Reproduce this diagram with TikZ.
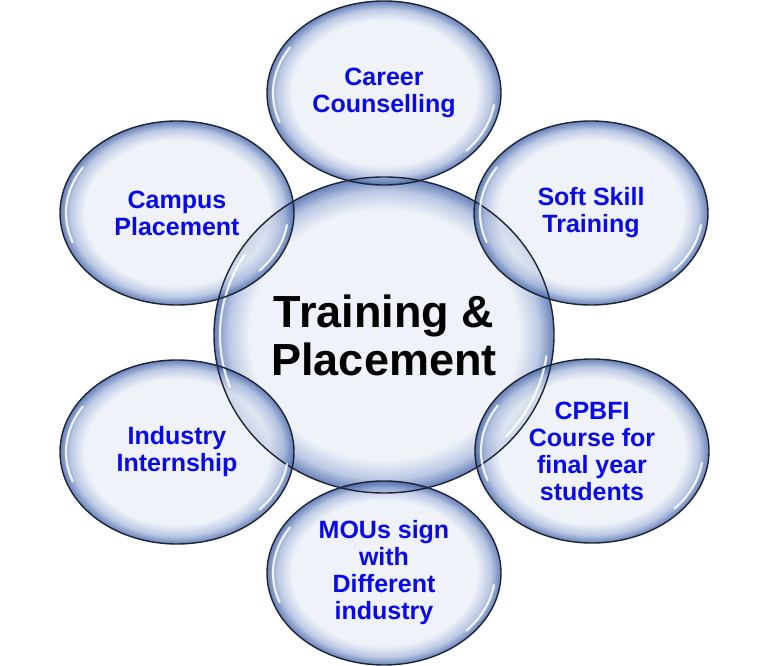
\documentclass[tikz,border=0pt]{standalone}
\usepackage{fontspec}
\setmainfont{Liberation Sans}
\usetikzlibrary{shapes.geometric}
\definecolor{bubblein}{HTML}{EAEEF6}
\definecolor{bubblemid}{HTML}{A9BADD}
\definecolor{bubbleedge}{HTML}{3F5FA6}
\definecolor{rimdark}{HTML}{1D2435}
\definecolor{labelblue}{RGB}{8,8,235}
\pgfdeclareradialshading{bubbleglow}{\pgfpoint{0bp}{0bp}}{color(0bp)=(bubblein); color(19.8bp)=(bubblein); color(22.8bp)=(bubblemid); color(25bp)=(bubbleedge); color(50bp)=(bubbleedge)}
\tikzset{
  bubble/.style={ellipse, inner sep=0pt, shading=bubbleglow, fill opacity=0.78, text opacity=1, align=center},
  satellite/.style={bubble, minimum width=234pt, minimum height=184pt, text=labelblue, font=\fontsize{25}{27}\selectfont\bfseries},
  hubbubble/.style={bubble, minimum width=340pt, minimum height=316pt, font=\fontsize{45}{48}\selectfont\bfseries},
  rim/.style={draw=rimdark, line width=1.4pt},
  gleam/.style={draw=white, line width=2.2pt, line cap=round, opacity=0.85}
}
\begin{document}
\begin{tikzpicture}[x=1pt,y=1pt]
  \useasboundingbox (0,0) rectangle (768,666);
  \node[hubbubble] (hub) at (384,331) {Training \&\\Placement};
  \node[satellite] (career) at (384,573) {Career\\Counselling};
  \node[satellite] (campus) at (177,453) {Campus\\Placement};
  \node[satellite] (softskill) at (591,453) {Soft Skill\\Training};
  \node[satellite] (internship) at (177,214) {Industry\\Internship};
  \node[satellite] (cpbfi) at (592,215) {CPBFI\\Course for\\final year\\students};
  \node[satellite] (mous) at (384,93) {MOUs sign\\with\\Different\\industry};
  % rims and glass highlights
  \foreach \n/\a/\b in {hub/170/158, career/117/92, campus/117/92, softskill/117/92, internship/117/92, cpbfi/117/92, mous/117/92}{
    \pgfmathsetmacro{\ia}{\a-6}
    \pgfmathsetmacro{\ib}{\b-6}
    \draw[rim] (\n.center) ellipse[x radius=\a, y radius=\b];
    \draw[gleam] ([shift={(148:{\ia} and {\ib})}]\n.center) arc[start angle=148, end angle=200, x radius=\ia, y radius=\ib];
    \draw[gleam] ([shift={(-42:{\ia} and {\ib})}]\n.center) arc[start angle=-42, end angle=-8, x radius=\ia, y radius=\ib];
  }
\end{tikzpicture}
\end{document}
